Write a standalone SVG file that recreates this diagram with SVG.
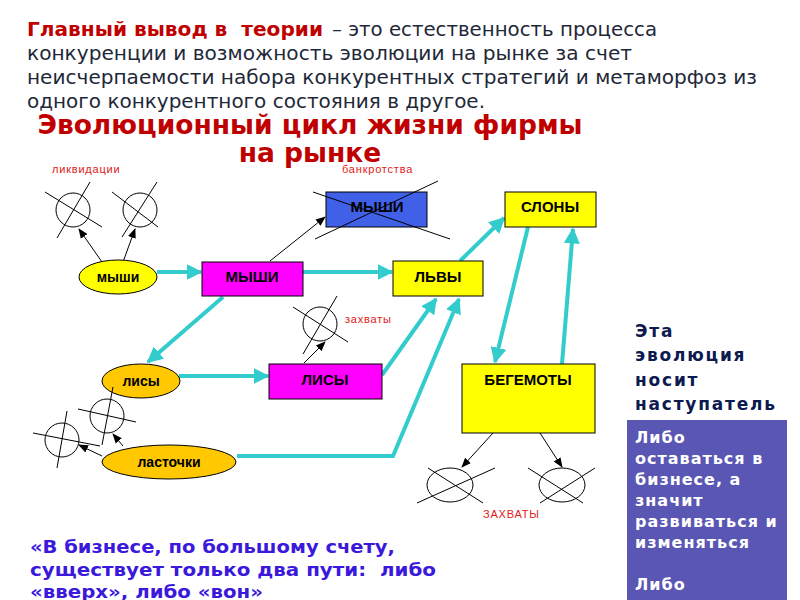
<svg xmlns="http://www.w3.org/2000/svg" width="800" height="600" viewBox="0 0 800 600">
<defs>
<marker id="ca" viewBox="0 0 10 10" refX="9" refY="5" markerWidth="4" markerHeight="4" orient="auto" markerUnits="strokeWidth"><path d="M0,0 L10,5 L0,10 z" fill="#33cccc"/></marker>
<marker id="ba" viewBox="0 0 10 10" refX="9" refY="5" markerWidth="10" markerHeight="10" orient="auto" markerUnits="userSpaceOnUse"><path d="M0,1 L10,5 L0,9 z" fill="#000"/></marker>
<style>
.top{font-family:"DejaVu Sans",sans-serif;font-size:20px;fill:#1e2838;white-space:pre}
.red{fill:#c00000;font-weight:bold}
.title{font-family:"DejaVu Sans",sans-serif;font-size:26.5px;font-weight:bold;fill:#c00000}
.lbl{font-family:"Liberation Sans",Arial,sans-serif;font-size:11px;fill:#e02020;letter-spacing:0.8px}
.nt{font-family:"Liberation Sans",Arial,sans-serif;font-size:15px;font-weight:bold;fill:#000;text-anchor:middle}
.et{font-size:14px}
.cy{stroke:#33cccc;stroke-width:4;fill:none}
.thin{stroke:#000;stroke-width:1;fill:none}
.circ{stroke:#000;stroke-width:1;fill:none}
.side{font-family:"DejaVu Sans",sans-serif;font-size:17px;font-weight:bold;fill:#0c1a50;letter-spacing:1.8px}
.box{font-family:"DejaVu Sans",sans-serif;font-size:16px;font-weight:bold;fill:#fff;letter-spacing:1px}
.quote{font-family:"DejaVu Sans",sans-serif;font-size:18px;font-weight:bold;fill:#3a18dc;white-space:pre}
</style>
</defs>
<rect width="800" height="600" fill="#fff"/>
<text class="top" y="36" xml:space="preserve"><tspan class="red" x="27" textLength="296" lengthAdjust="spacingAndGlyphs">Главный вывод в  теории</tspan><tspan x="332" textLength="325" lengthAdjust="spacingAndGlyphs">– это естественность процесса</tspan></text>
<text class="top" x="27" y="60" textLength="605" lengthAdjust="spacingAndGlyphs">конкуренции и возможность эволюции на рынке за счет</text>
<text class="top" x="27" y="84" textLength="730" lengthAdjust="spacingAndGlyphs">неисчерпаемости набора конкурентных стратегий и метаморфоз из</text>
<text class="top" x="27" y="108" textLength="458" lengthAdjust="spacingAndGlyphs">одного конкурентного состояния в другое.</text>
<text class="title" x="310" y="134" text-anchor="middle">Эволюционный цикл жизни фирмы</text>
<text class="title" x="310" y="162" text-anchor="middle">на рынке</text>
<text class="lbl" x="52" y="173">ликвидации</text>
<text class="lbl" x="342" y="173">банкротства</text>
<text class="lbl" x="345" y="323">захваты</text>
<text class="lbl" x="483" y="518">ЗАХВАТЫ</text>
<g id="connectors">
<line class="cy" x1="157" y1="272" x2="201" y2="272" marker-end="url(#ca)"/>
<line class="cy" x1="303" y1="272" x2="392" y2="272" marker-end="url(#ca)"/>
<line class="cy" x1="460" y1="261" x2="504" y2="218" marker-end="url(#ca)"/>
<line class="cy" x1="528" y1="227" x2="495" y2="362" marker-end="url(#ca)"/>
<line class="cy" x1="562" y1="364" x2="573" y2="229" marker-end="url(#ca)"/>
<line class="cy" x1="223" y1="297" x2="148" y2="362" marker-end="url(#ca)"/>
<line class="cy" x1="179" y1="376" x2="268" y2="376" marker-end="url(#ca)"/>
<line class="cy" x1="382" y1="375" x2="436" y2="299" marker-end="url(#ca)"/>
<polyline class="cy" points="237,456 393,456 459,299" marker-end="url(#ca)"/>
<line class="thin" x1="270" y1="261" x2="325" y2="217" marker-end="url(#ba)"/>
<line class="thin" x1="102" y1="262" x2="79" y2="229" marker-end="url(#ba)"/>
<line class="thin" x1="123" y1="262" x2="135" y2="229" marker-end="url(#ba)"/>
<line class="thin" x1="304" y1="363" x2="325" y2="342" marker-end="url(#ba)"/>
<line class="thin" x1="102" y1="456" x2="79" y2="445" marker-end="url(#ba)"/>
<line class="thin" x1="123" y1="446" x2="113" y2="434" marker-end="url(#ba)"/>
<line class="thin" x1="493" y1="433" x2="462" y2="467" marker-end="url(#ba)"/>
<line class="thin" x1="540" y1="433" x2="562" y2="467" marker-end="url(#ba)"/>
</g>
<g id="liq1"><circle class="circ" cx="73" cy="210" r="17"/><line class="thin" x1="45" y1="192" x2="102" y2="227"/><line class="thin" x1="90" y1="182" x2="57" y2="238"/></g>
<g id="liq2"><circle class="circ" cx="140" cy="210" r="17"/><line class="thin" x1="112" y1="192" x2="158" y2="227"/><line class="thin" x1="157" y1="182" x2="122" y2="237"/></g>
<g id="mice-ellipse"><ellipse cx="118" cy="277" rx="39" ry="17" fill="#ffff00" stroke="#000"/><text class="nt et" x="118" y="282">мыши</text></g>
<g id="mice-box"><rect x="202" y="262" width="101" height="34" fill="#ff00ff" stroke="#000"/><text class="nt" x="252" y="282">МЫШИ</text></g>
<g id="mice-bankrupt"><rect x="326" y="192" width="101" height="35" fill="#4060e8" stroke="#000"/><text class="nt" x="377" y="212">МЫШИ</text><line class="thin" x1="313" y1="192" x2="450" y2="239"/><line class="thin" x1="438" y1="181" x2="315" y2="239"/></g>
<g id="lions"><rect x="393" y="261" width="90" height="35" fill="#ffff00" stroke="#000"/><text class="nt" x="438" y="282">ЛЬВЫ</text></g>
<g id="elephants"><rect x="505" y="192" width="91" height="35" fill="#ffff00" stroke="#000"/><text class="nt" x="550" y="212">СЛОНЫ</text></g>
<g id="hippos"><rect x="462" y="364" width="133" height="69" fill="#ffff00" stroke="#000"/><text class="nt" x="528" y="385">БЕГЕМОТЫ</text></g>
<g id="fox-ellipse"><ellipse cx="141" cy="381" rx="39" ry="17" fill="#ffc800" stroke="#000"/><text class="nt et" x="141" y="386">лисы</text></g>
<g id="fox-box"><rect x="269" y="364" width="113" height="35" fill="#ff00ff" stroke="#000"/><text class="nt" x="325" y="385">ЛИСЫ</text></g>
<g id="swallows"><ellipse cx="169" cy="462" rx="67" ry="17" fill="#ffc800" stroke="#000"/><text class="nt et" x="169" y="467">ласточки</text></g>
<g id="capture1"><circle class="circ" cx="320" cy="324" r="17"/><line class="thin" x1="293" y1="307" x2="348" y2="342"/><line class="thin" x1="337" y1="296" x2="303" y2="354"/></g>
<g id="cA"><circle class="circ" cx="107" cy="416" r="17"/><line class="thin" x1="78" y1="409" x2="136" y2="422"/><line class="thin" x1="113" y1="387" x2="102" y2="445"/></g>
<g id="cB"><circle class="circ" cx="62" cy="440" r="17"/><line class="thin" x1="33" y1="433" x2="100" y2="446"/><line class="thin" x1="67" y1="411" x2="57" y2="468"/></g>
<g id="cap2"><ellipse class="circ" cx="450" cy="485" rx="23" ry="17"/><line class="thin" x1="417" y1="503" x2="495" y2="468"/><line class="thin" x1="428" y1="468" x2="483" y2="503"/></g>
<g id="cap3"><ellipse class="circ" cx="562" cy="485" rx="23" ry="17"/><line class="thin" x1="528" y1="468" x2="583" y2="503"/><line class="thin" x1="595" y1="468" x2="540" y2="503"/></g>
<text class="side" x="635" y="337">Эта</text>
<text class="side" x="635" y="361">эволюция</text>
<text class="side" x="635" y="386">носит</text>
<text class="side" x="635" y="410">наступатель</text>
<rect x="627" y="420" width="160" height="180" fill="#5a56b4"/>
<text class="box" x="635" y="443">Либо</text>
<text class="box" x="635" y="464">оставаться в</text>
<text class="box" x="635" y="485">бизнесе, а</text>
<text class="box" x="635" y="506">значит</text>
<text class="box" x="635" y="527">развиваться и</text>
<text class="box" x="635" y="548">изменяться</text>
<text class="box" x="635" y="590">Либо</text>
<text class="quote" x="30" y="553" textLength="365" lengthAdjust="spacingAndGlyphs">«В бизнесе, по большому счету,</text>
<text class="quote" x="30" y="576" textLength="406" lengthAdjust="spacingAndGlyphs" xml:space="preserve">существует только два пути:  либо</text>
<text class="quote" x="30" y="598" textLength="233" lengthAdjust="spacingAndGlyphs">«вверх», либо «вон»</text>
</svg>
